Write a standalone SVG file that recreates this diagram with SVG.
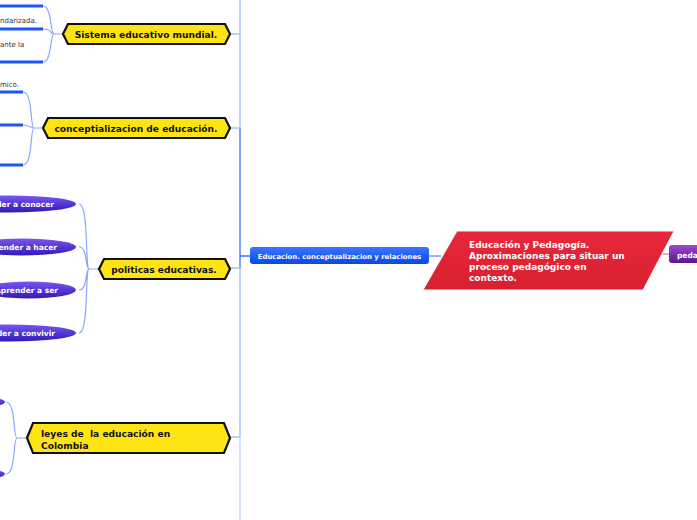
<svg xmlns="http://www.w3.org/2000/svg" width="697" height="520" viewBox="0 0 697 520">
<defs>
<linearGradient id="gPurple" x1="0" y1="0" x2="0" y2="1"><stop offset="0" stop-color="#7a56ee"/><stop offset="1" stop-color="#3318b8"/></linearGradient>
<linearGradient id="gBlue" x1="0" y1="0" x2="0" y2="1"><stop offset="0" stop-color="#3a78ff"/><stop offset="1" stop-color="#0a44ee"/></linearGradient>
<linearGradient id="gViolet" x1="0" y1="0" x2="0" y2="1"><stop offset="0" stop-color="#9a48d0"/><stop offset="1" stop-color="#5e1890"/></linearGradient>
<linearGradient id="gRed" x1="0" y1="0" x2="0" y2="1"><stop offset="0" stop-color="#e8283a"/><stop offset="1" stop-color="#d82030"/></linearGradient>
</defs>
<style>
.yel{fill:#ffe414;stroke:#111;stroke-width:2.2;stroke-linejoin:miter}
.yt{font-family:"DejaVu Sans",Verdana,sans-serif;font-weight:bold;font-size:9.1px;fill:#111}
.thin{fill:none;stroke:#8aa8ff;stroke-width:1.2}
.thick{stroke:#1a55f5;stroke-width:3;fill:none}
.small{font-family:"DejaVu Sans",Verdana,sans-serif;font-size:7px;fill:#333}
.pt{font-family:"DejaVu Sans",Verdana,sans-serif;font-weight:bold;font-size:7.5px;fill:#fff}
.bt{font-family:"DejaVu Sans",Verdana,sans-serif;font-weight:bold;font-size:6.9px;fill:#fff}
.wt{font-family:"DejaVu Sans",Verdana,sans-serif;font-weight:bold;font-size:9px;fill:#fff}
</style>
<rect width="697" height="520" fill="#fff"/>
<g id="connectors">
<line x1="240" y1="0" x2="240" y2="128" stroke="#a9c0fd" stroke-width="1.5"/>
<line x1="240" y1="128" x2="240" y2="268" stroke="#5b80ff" stroke-width="1.5"/>
<line x1="240" y1="268" x2="240" y2="437" stroke="#a9c0fd" stroke-width="1.5"/>
<line x1="240" y1="437" x2="240" y2="520" stroke="#c4d4fd" stroke-width="1.5"/>
<line x1="230" y1="34" x2="240" y2="34" stroke="#a9c0fd" stroke-width="1.5"/>
<line x1="230" y1="128" x2="240" y2="128" stroke="#a9c0fd" stroke-width="1.5"/>
<line x1="230" y1="268" x2="240" y2="268" stroke="#a9c0fd" stroke-width="1.5"/>
<line x1="230" y1="437" x2="240" y2="437" stroke="#a9c0fd" stroke-width="1.5"/>
<line x1="240" y1="256" x2="250" y2="256" stroke="#3a6cff" stroke-width="1.5"/>
<line x1="429" y1="256" x2="441" y2="256" stroke="#5b80ff" stroke-width="1.2"/>
<line x1="661" y1="254" x2="669" y2="254" stroke="#a070d0" stroke-width="1"/>
<path class="thin" d="M63 34 H54 M54 34 C50 34 52 6 43 6 M54 34 C50 34 52 29 43 29 M54 34 C50 34 52 62 43 62"/>
<path class="thin" d="M43 128 H34 M34 128 C30 128 33 92 23 92 M34 128 C30 128 30 125 23 125 M34 128 C30 128 33 165 23 165"/>
<path class="thin" d="M99 269 H89 M89 269 C85 269 89 204 79 204 M89 269 C85 269 88 247 79 247 M89 269 C85 269 88 290 79 290 M89 269 C85 269 89 333 79 333"/>
<path class="thin" d="M27 438 H17 M17 438 C13 438 16 402 6 402 M17 438 C13 438 16 474 6 474"/>
</g>
<g id="child-sistema-1"><line class="thick" x1="0" y1="6" x2="43" y2="6"/></g>
<g id="child-sistema-2"><text class="small" x="0" y="23">ndarizada.</text><line class="thick" x1="0" y1="29" x2="43" y2="29"/></g>
<g id="child-sistema-3"><text class="small" x="0" y="47">ante la</text><line class="thick" x1="0" y1="62" x2="43" y2="62"/></g>
<g id="child-concept-1"><text class="small" x="0" y="87">mico.</text><line class="thick" x1="0" y1="92" x2="23" y2="92"/></g>
<g id="child-concept-2"><line class="thick" x1="0" y1="125" x2="23" y2="125"/></g>
<g id="child-concept-3"><line class="thick" x1="0" y1="165" x2="23" y2="165"/></g>
<g id="node-conocer"><ellipse cx="10" cy="204" rx="66" ry="8.5" fill="url(#gPurple)"/><text class="pt" x="54" y="207" text-anchor="end">Aprender a conocer</text></g>
<g id="node-hacer"><ellipse cx="22" cy="247" rx="54" ry="8.5" fill="url(#gPurple)"/><text class="pt" x="57" y="250" text-anchor="end">Aprender a hacer</text></g>
<g id="node-ser"><ellipse cx="29" cy="290" rx="47" ry="8.5" fill="url(#gPurple)"/><text class="pt" x="58" y="293" text-anchor="end">Aprender a ser</text></g>
<g id="node-convivir"><ellipse cx="10" cy="333" rx="66" ry="8.5" fill="url(#gPurple)"/><text class="pt" x="55" y="336" text-anchor="end">Aprender a convivir</text></g>
<g id="node-leyes-1"><ellipse cx="-20" cy="402" rx="25" ry="5" fill="url(#gPurple)"/></g>
<g id="node-leyes-2"><ellipse cx="-20" cy="474" rx="25" ry="5" fill="url(#gPurple)"/></g>
<g id="node-sistema"><polygon class="yel" points="63,34 68,24 225,24 230,34 225,44 68,44"/><text class="yt" x="146" y="37.5" text-anchor="middle">Sistema educativo mundial.</text></g>
<g id="node-concept"><polygon class="yel" points="43,128 48,118 225,118 230,128 225,138 48,138"/><text class="yt" x="136" y="131.5" text-anchor="middle">conceptializacion de educación.</text></g>
<g id="node-politicas"><polygon class="yel" points="99,269 104,259 225,259 230,269 225,279 104,279"/><text class="yt" x="164" y="272.5" text-anchor="middle">politicas educativas.</text></g>
<g id="node-leyes"><polygon class="yel" points="27,438 33,423 224,423 230,438 224,453 33,453"/><text class="yt" x="41" y="436.5">leyes de&#160; la educación en</text><text class="yt" x="41" y="448.5">Colombia</text></g>
<g id="node-blue"><rect x="250" y="247" width="179" height="17" rx="3" fill="url(#gBlue)"/><text class="bt" x="339.5" y="258.5" text-anchor="middle">Educacion. conceptualizacion y relaciones</text></g>
<g id="node-main"><polygon points="457,231 674,231 643,290 423,290" fill="url(#gRed)" stroke="#f4f4f4" stroke-width="1"/><text class="wt" x="469" y="248">Educación y Pedagogía.</text><text class="wt" x="469" y="259">Aproximaciones para situar un</text><text class="wt" x="469" y="270">proceso pedagógico en</text><text class="wt" x="469" y="281">contexto.</text></g>
<g id="node-pedag"><rect x="669" y="245" width="40" height="18" rx="3" fill="url(#gViolet)"/><text class="pt" x="677" y="257.5">pedagogía</text></g>
</svg>
